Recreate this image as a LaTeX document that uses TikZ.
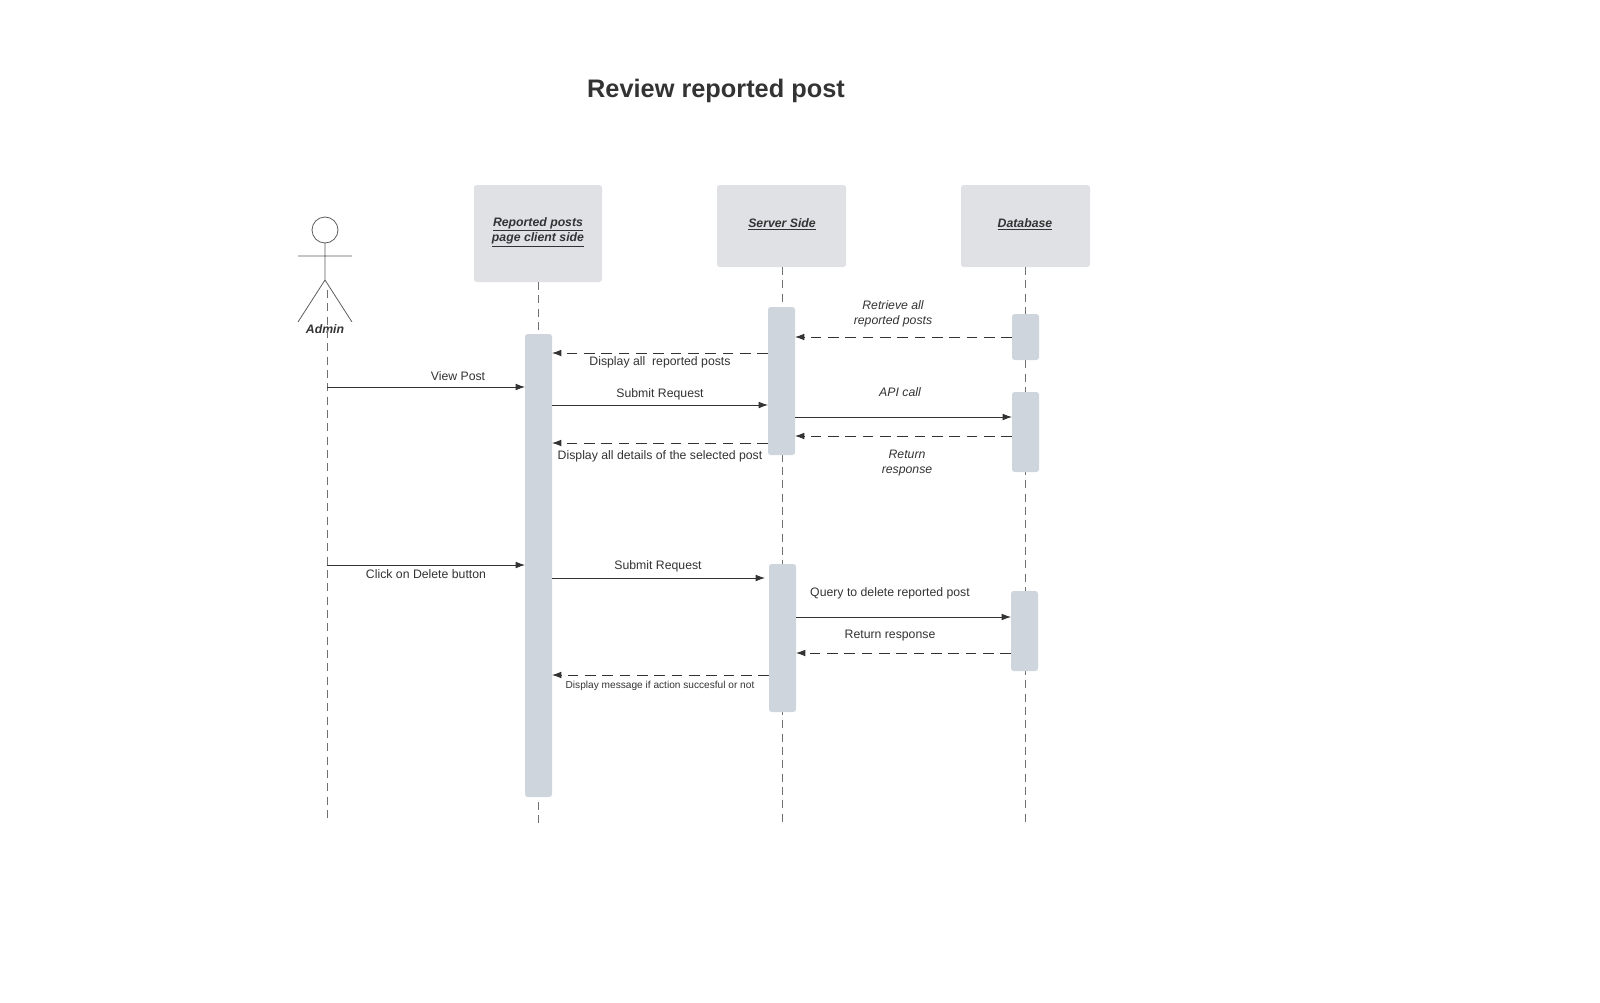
\documentclass[tikz,border=0pt]{standalone}
\usepackage{fontspec}
\setmainfont{Liberation Sans}
\usetikzlibrary{arrows.meta}
\definecolor{ink}{HTML}{333333}
\definecolor{hbox}{HTML}{DFE1E5}
\definecolor{act}{HTML}{CFD5DD}
\begin{document}
\begin{tikzpicture}[x=0.75pt,y=-0.75pt,
  life/.style={draw=ink!70,dash pattern=on 6pt off 4pt,line width=0.6pt},
  head/.style={fill=hbox,rounded corners=2pt,draw=none},
  bar/.style={fill=act,rounded corners=2pt,draw=none},
  msg/.style={draw=ink,line width=0.6pt,-{Latex[length=7pt,width=5pt]}},
  rmsg/.style={msg,dash pattern=on 8pt off 5pt},
  lbl/.style={text=ink,font=\fontsize{9.2}{10.5}\selectfont,align=center,inner sep=0pt},
  hl/.style={text=ink,font=\fontsize{9.2}{10.5}\selectfont\bfseries\itshape,align=center,inner sep=0pt}]
\useasboundingbox (0,0) rectangle (1600,1003);
\node[text=ink,font=\fontsize{19}{22}\selectfont\bfseries] (title) at (716,91) {Review reported post};
% actor
\draw[ink!80,line width=0.6pt] (325,230) circle (13);
\draw[ink!80,line width=0.6pt] (325,243)--(325,280) (298,256)--(352,256) (298,322)--(325,280)--(352,322);
\node[hl] (admin) at (325,329) {Admin};
% heads
\fill[head] (474,185) rectangle (602,282);
\node[hl] (h1) at (538,232) {\underline{Reported posts}\\\underline{page client side}};
\fill[head] (717,185) rectangle (846,267);
\node[hl] (h2) at (782,224) {\underline{Server Side}};
\fill[head] (961,185) rectangle (1090,267);
\node[hl] (h3) at (1025,224) {\underline{Database}};
% lifelines
\draw[life] (327,290)--(327,822);
\draw[life] (538,282)--(538,825);
\draw[life] (782,267)--(782,822);
\draw[life] (1025,267)--(1025,825);
% bars
\fill[bar] (525,334) rectangle (552,797);
\fill[bar] (768,307) rectangle (795,455);
\fill[bar] (769,564) rectangle (796,712);
\fill[bar] (1012,314) rectangle (1039,360);
\fill[bar] (1012,392) rectangle (1039,472);
\fill[bar] (1011,591) rectangle (1038,671);
% messages
\coordinate (a1) at (1012,337); \coordinate (b1) at (795,337);
\draw[rmsg] (a1)--(b1);
\node[lbl,font=\fontsize{9.2}{11}\selectfont\itshape] at (893,314) {Retrieve all\\reported posts};
\coordinate (a2) at (768,353); \coordinate (b2) at (552,353);
\draw[rmsg] (a2)--(b2);
\node[lbl] at (660,362) {Display all\ \ reported posts};
\coordinate (a3) at (327,387); \coordinate (b3) at (525,387);
\draw[msg] (a3)--(b3);
\node[lbl] at (458,376) {View Post};
\coordinate (a4) at (552,405); \coordinate (b4) at (768,405);
\draw[msg] (a4)--(b4);
\node[lbl] at (660,394) {Submit Request};
\coordinate (a5) at (795,417); \coordinate (b5) at (1012,417);
\draw[msg] (a5)--(b5);
\node[lbl,font=\fontsize{9.2}{11}\selectfont\itshape] at (900,392) {API call};
\coordinate (a6) at (1012,436); \coordinate (b6) at (795,436);
\draw[rmsg] (a6)--(b6);
\node[lbl,font=\fontsize{9.2}{11}\selectfont\itshape] at (907,463) {Return\\response};
\coordinate (a7) at (768,443); \coordinate (b7) at (552,443);
\draw[rmsg] (a7)--(b7);
\node[lbl] at (660,456) {Display all details of the selected post};
\coordinate (a8) at (327,565); \coordinate (b8) at (525,565);
\draw[msg] (a8)--(b8);
\node[lbl] at (426,574) {Click on Delete button};
\coordinate (a9) at (552,578); \coordinate (b9) at (765,578);
\draw[msg] (a9)--(b9);
\node[lbl] at (658,566) {Submit Request};
\coordinate (a10) at (796,617); \coordinate (b10) at (1011,617);
\draw[msg] (a10)--(b10);
\node[lbl] at (890,593) {Query to delete reported post};
\coordinate (a11) at (1011,653); \coordinate (b11) at (796,653);
\draw[rmsg] (a11)--(b11);
\node[lbl] at (890,636) {Return response};
\coordinate (a12) at (769,675); \coordinate (b12) at (552,675);
\draw[rmsg] (a12)--(b12);
\node[lbl,font=\fontsize{7.6}{9}\selectfont] at (660,686) {Display message if action succesful or not};
\end{tikzpicture}
\end{document}
